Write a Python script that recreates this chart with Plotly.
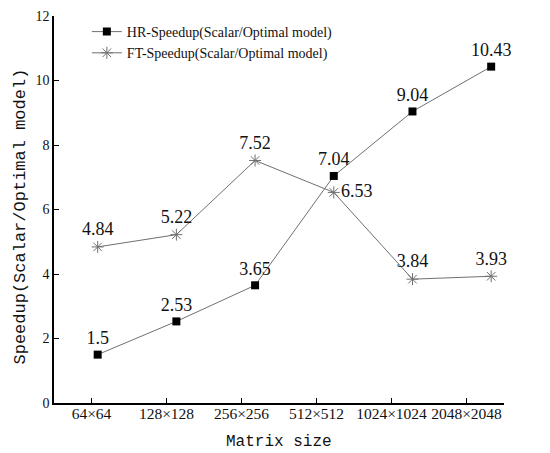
import plotly.graph_objects as go

matrix_sizes = ["64×64", "128×128", "256×256", "512×512", "1024×1024", "2048×2048"]
hr_speedup = [1.5, 2.53, 3.65, 7.04, 9.04, 10.43]
ft_speedup = [4.84, 5.22, 7.52, 6.53, 3.84, 3.93]
y_ticks = [0, 2, 4, 6, 8, 10, 12]

hr_text = [str(v) for v in hr_speedup]
ft_text = [str(v) for v in ft_speedup]
# the 6.53 label sits to the right of its marker, the rest above
ft_pos = ["top center", "top center", "top center", "middle right", "top center", "top center"]

mono = "Liberation Mono, DejaVu Sans Mono, monospace"
serif = "Liberation Serif, Noto Sans CJK SC, serif"
ink = "#111111"

fig = go.Figure()

# invisible trace so the tick axis (x) gets drawn; real marks live on x2
fig.add_trace(go.Scatter(
    x=matrix_sizes, y=hr_speedup, mode="markers",
    marker=dict(opacity=0), showlegend=False, hoverinfo="skip",
))

fig.add_trace(go.Scatter(
    x=matrix_sizes, y=hr_speedup, xaxis="x2",
    name="HR-Speedup(Scalar/Optimal model)",
    mode="lines+markers+text", cliponaxis=False,
    line=dict(color="#707070", width=1),
    marker=dict(symbol="square", size=8, color="black"),
    text=hr_text, textposition="top center",
    textfont=dict(family=serif, size=18, color=ink),
))

fig.add_trace(go.Scatter(
    x=matrix_sizes, y=ft_speedup, xaxis="x2",
    name="FT-Speedup(Scalar/Optimal model)",
    mode="lines+markers+text", cliponaxis=False,
    line=dict(color="#707070", width=1),
    marker=dict(symbol="asterisk-open", size=10, line=dict(color="#333333", width=1)),
    text=ft_text, textposition=ft_pos,
    textfont=dict(family=serif, size=18, color=ink),
))

# the page body has an 8px margin, so the figure is 8px smaller each way
fig.update_layout(
    width=542, height=445,
    margin=dict(l=46, r=46, t=8, b=50),
    paper_bgcolor="white", plot_bgcolor="white",
    showlegend=True,
    legend=dict(x=0.073, y=1.0, xanchor="left", yanchor="top",
                font=dict(family=serif, size=14, color=ink),
                bgcolor="rgba(0,0,0,0)", tracegroupgap=0),
    xaxis=dict(
        type="category", categoryorder="array", categoryarray=matrix_sizes,
        tickvals=matrix_sizes, range=[-0.5, 5.5], automargin=False,
        showline=True, linecolor="black", linewidth=1.5,
        ticks="inside", ticklen=5, tickcolor="black", ticklabelstandoff=-4,
        showgrid=False, zeroline=False,
        tickfont=dict(family=serif, size=15.5, color=ink),
    ),
    xaxis2=dict(
        type="category", categoryorder="array", categoryarray=matrix_sizes,
        overlaying="x", range=[-0.555, 5.163], visible=False, automargin=False,
    ),
    yaxis=dict(
        range=[0, 12], tickvals=y_ticks, automargin=False,
        showline=True, linecolor="black", linewidth=1.5,
        ticks="inside", ticklen=5, tickcolor="black",
        showgrid=False, zeroline=False,
        tickfont=dict(family=serif, size=14, color=ink),
    ),
    annotations=[
        dict(text="Matrix size", xref="paper", yref="paper", x=0.5, y=0,
             xanchor="center", yanchor="middle", yshift=-39, showarrow=False,
             font=dict(family=mono, size=16, color=ink)),
        dict(text="Speedup(Scalar/Optimal model)", xref="paper", yref="paper", x=0, y=0.5,
             xanchor="center", yanchor="middle", xshift=-34, yshift=-7, textangle=-90,
             showarrow=False, font=dict(family=mono, size=17, color=ink)),
    ],
)

fig.write_html("out.html")
